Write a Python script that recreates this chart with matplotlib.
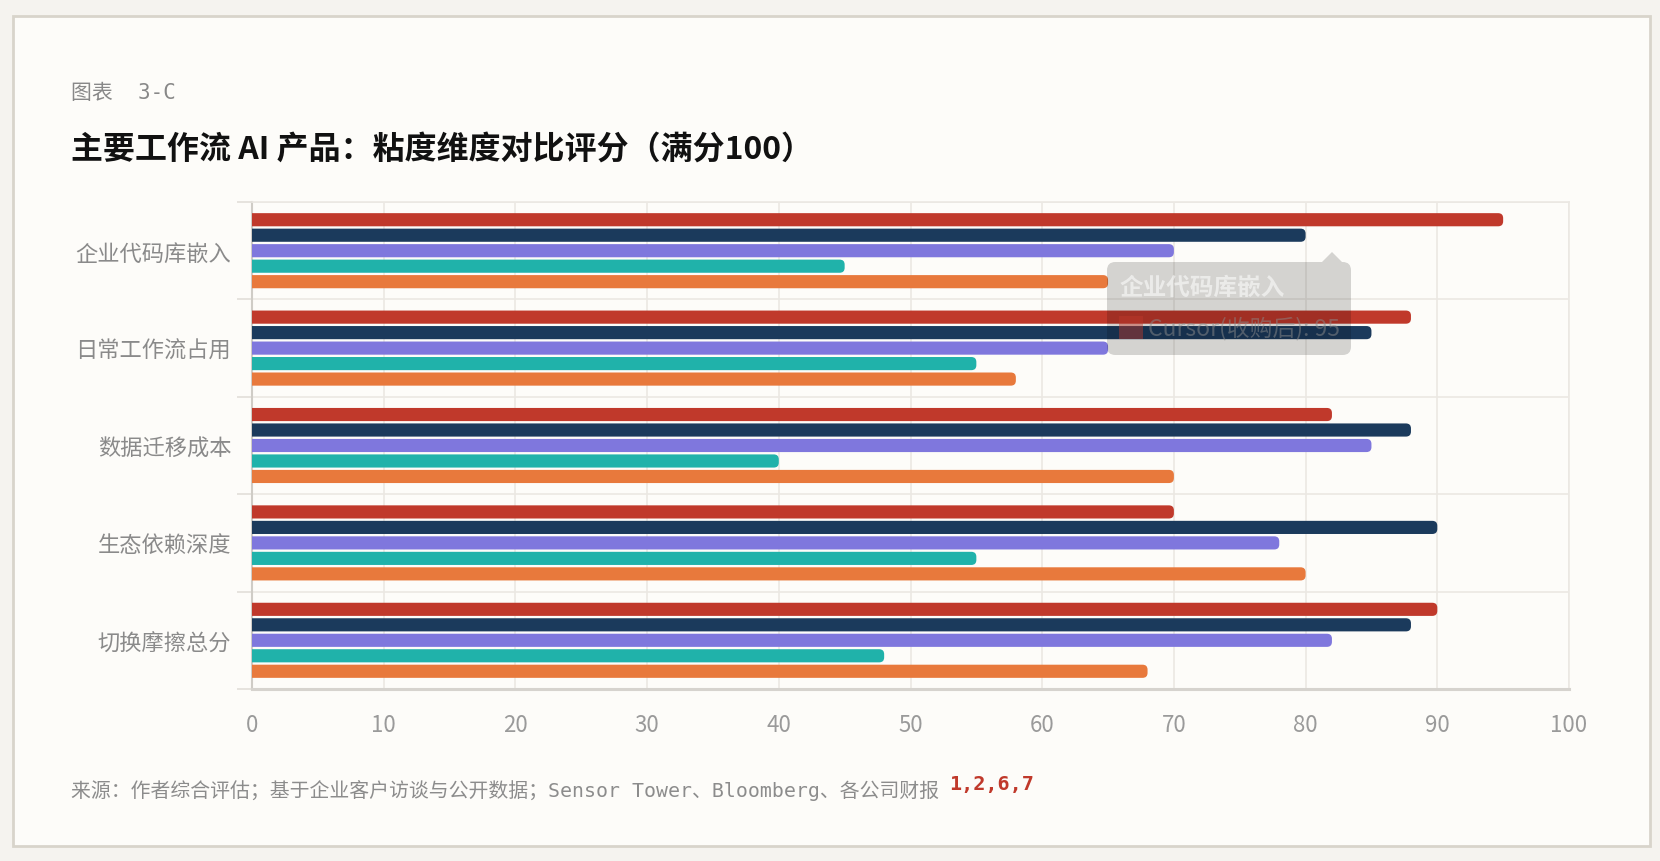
import numpy as np
import matplotlib.pyplot as plt
from matplotlib.patches import FancyBboxPatch, Rectangle, Polygon

plt.rcParams['font.family'] = ['Noto Sans CJK SC', 'DejaVu Sans']

# data
categories = ['企业代码库嵌入', '日常工作流占用', '数据迁移成本', '生态依赖深度', '切换摩擦总分']
series_names = ['Cursor(收购后)', '产品2', '产品3', '产品4', '产品5']
cursor_vals = [95, 88, 82, 70, 90]
prod2_vals = [80, 85, 88, 90, 88]
prod3_vals = [70, 65, 85, 78, 82]
prod4_vals = [45, 55, 40, 55, 48]
prod5_vals = [65, 58, 70, 80, 68]
colors = ['#c0392b', '#1b3a5c', '#7f77dd', '#20b2aa', '#e8793c']
x_ticks = [0, 10, 20, 30, 40, 50, 60, 70, 80, 90, 100]

all_vals = [cursor_vals, prod2_vals, prod3_vals, prod4_vals, prod5_vals]

W, H = 1660, 862
fig = plt.figure(figsize=(W / 100, H / 100), dpi=100)
fig.patch.set_facecolor('#f5f3ef')

# card behind everything
card = Rectangle((13 / W, 1 - 847 / H), 1637 / W, 830 / H, transform=fig.transFigure,
                 facecolor='#fdfcf9', edgecolor='#d8d4cb', linewidth=2, zorder=-5)
fig.patches.append(card)

ax = fig.add_axes([252 / W, 1 - 690 / H, 1317 / W, 487 / H])
ax.set_zorder(1)
ax.set_facecolor('#fdfcf9')

y = np.arange(len(categories))
step = 0.159
bar_h = 0.135
r = 0.38          # rounding in x units
aspect = 0.135    # y/x ratio of a pixel in data units

for i, (vals, c) in enumerate(zip(all_vals, colors)):
    off = (i - 2) * step
    bars = ax.barh(y + off, vals, height=bar_h, color=c, label=series_names[i])
    for b in bars:
        bx, by = b.get_x(), b.get_y()
        bw, bh = b.get_width(), b.get_height()
        b.set_visible(False)
        p = FancyBboxPatch((bx - 1, by), bw + 1, bh,
                           boxstyle=f'round,pad=0,rounding_size={r}',
                           mutation_aspect=aspect, facecolor=c,
                           edgecolor='none', zorder=3)
        ax.add_patch(p)

ax.set_xlim(0, 100)
ax.set_ylim(len(categories) - 0.5, -0.5)

ax.set_xticks(x_ticks)
ax.set_yticks(y)
ax.set_yticklabels(categories)
ax.set_yticks(np.arange(len(categories) + 1) - 0.5, minor=True)
ax.tick_params(axis='y', which='major', length=0, pad=15, labelsize=16, labelcolor='#8a8a8a')
ax.tick_params(axis='y', which='minor', length=11, width=1.2, color='#e2dfd9')
ax.tick_params(axis='x', length=0, pad=17, labelsize=16, labelcolor='#9a9a9a')

ax.grid(axis='x', color='#ebe8e3', linewidth=1.2, zorder=0)
ax.grid(axis='y', which='minor', color='#ebe8e3', linewidth=1.2, zorder=0)
ax.set_axisbelow(True)

for s in ['top', 'right']:
    ax.spines[s].set_color('#ebe8e3')
    ax.spines[s].set_linewidth(1.2)
ax.spines['left'].set_color('#cfccc6')
ax.spines['left'].set_linewidth(1.5)
ax.spines['bottom'].set_color('#d6d3ce')
ax.spines['bottom'].set_linewidth(2.2)

# header texts
fig.text(71 / W, 1 - 93 / H, '图表  3-C', fontsize=15, color='#888888',
         family=['DejaVu Sans Mono', 'Noto Sans CJK SC'], va='center', ha='left')
fig.text(71 / W, 1 - 150 / H, '主要工作流 AI 产品：粘度维度对比评分（满分100）',
         fontsize=23, fontweight='bold', color='#111111', va='center', ha='left')

# footnote
foot = fig.text(71 / W, 1 - 791 / H,
                '来源：作者综合评估；基于企业客户访谈与公开数据；Sensor Tower、Bloomberg、各公司财报',
                fontsize=14.3, color='#8c8c8c', family=['DejaVu Sans Mono', 'Noto Sans CJK SC'],
                va='center', ha='left')
ax.annotate('1,2,6,7', xy=(1, 1), xycoords=foot, xytext=(7, 4),
            textcoords='offset points', fontsize=14.5, color='#c0392b',
            fontweight='bold', family=['DejaVu Sans Mono'], va='top', ha='left',
            annotation_clip=False)

# hover tooltip
tip = FancyBboxPatch((1107 / W, 1 - 356 / H), 244 / W, 93 / H,
                     boxstyle='round,pad=0,rounding_size=0.005',
                     mutation_aspect=W / H, transform=fig.transFigure,
                     facecolor='black', alpha=0.16, edgecolor='none', zorder=10)
fig.patches.append(tip)
arrow = Polygon([(1322 / W, 1 - 263 / H), (1332 / W, 1 - 253 / H), (1342 / W, 1 - 263 / H)],
                closed=True, transform=fig.transFigure, facecolor='black', alpha=0.16,
                edgecolor='none', zorder=10)
fig.patches.append(arrow)
fig.text(1120 / W, 1 - 288 / H, categories[0], fontsize=17, fontweight='bold',
         color='white', alpha=0.55, va='center', ha='left', zorder=11)
sq = Rectangle((1119 / W, 1 - 340 / H), 24 / W, 23 / H, transform=fig.transFigure,
               facecolor='#c0392b', alpha=0.45, edgecolor='none', zorder=11)
fig.patches.append(sq)
fig.text(1148 / W, 1 - 329 / H, f'{series_names[0]}: {cursor_vals[0]}', fontsize=16.5,
         color='#8a8a8a', alpha=0.5, va='center', ha='left', zorder=11)

fig.savefig('out.png', dpi=100, facecolor=fig.get_facecolor())
